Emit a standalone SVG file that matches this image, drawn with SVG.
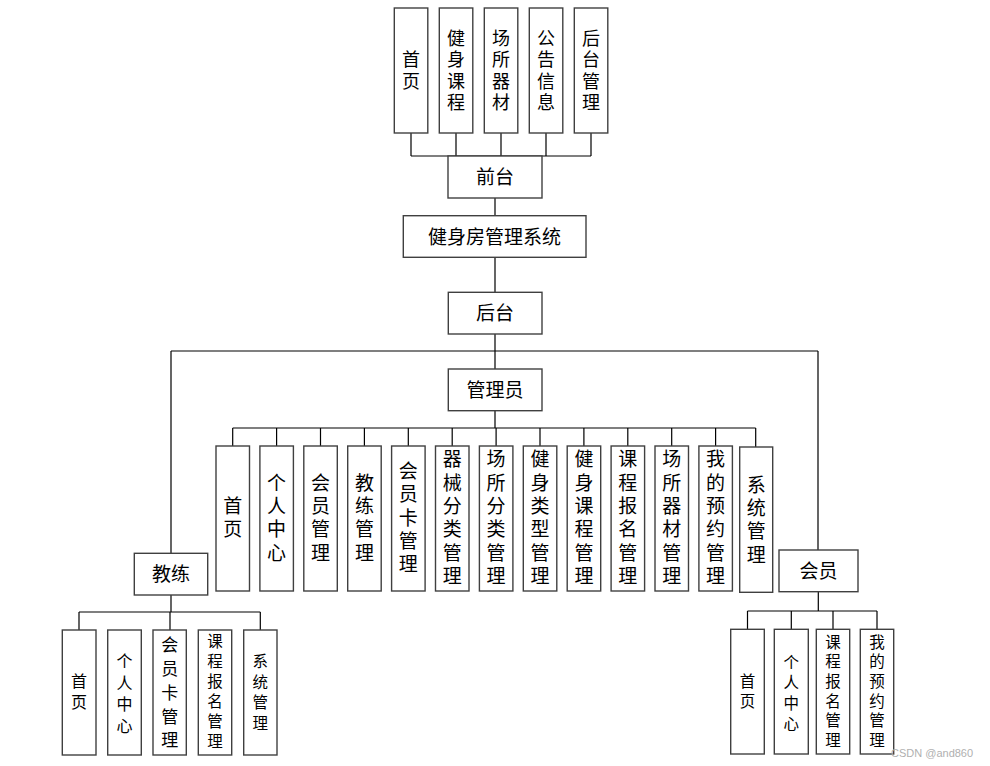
<svg xmlns="http://www.w3.org/2000/svg" width="990" height="766" viewBox="0 0 990 766">
<style>
.box{fill:#fff;stroke:#404040;stroke-width:1.4}
.ln{stroke:#000;stroke-width:1.2;fill:none}
text{font-family:"Noto Sans CJK SC","Noto Sans",sans-serif;fill:#000;text-anchor:middle}
.v{writing-mode:vertical-rl;text-orientation:upright}
.f19{font-size:19px}
.t{font-size:18px;letter-spacing:3.5px}
.a{font-size:19px;letter-spacing:4.3px}
.wm{font-family:"Liberation Sans",Arial,sans-serif;font-size:11px;fill:#b0b0b0;text-anchor:start}
</style>
<rect width="990" height="766" fill="#fff"/>
<g id="connectors">
<path class="ln" d="M411 133V156M456 133V156M501 133V156M546 133V156M591 133V156M411 156H591"/>
<path class="ln" d="M495 198V216M495 257V292M495 334V369M495 410V428"/>
<path class="ln" d="M171 351H818M171 351V553M818 351V550"/>
<path class="ln" d="M232.7 428H755.7M232.7 428V446M276.6 428V446M320.5 428V446M364.4 428V446M408.3 428V446M452.2 428V446M496.1 428V446M540 428V446M583.9 428V446M627.8 428V446M671.7 428V446M715.6 428V446M755.7 428V447"/>
<path class="ln" d="M171 595V612M79 612H260.3M79 612V630M170 612V630M260.3 612V630"/>
<path class="ln" d="M818.3 592V611M747.5 611H877M747.5 611V629M791.3 611V629M833 611V629M877 611V629"/>
</g>
<g id="front-home"><rect class="box" x="394.3" y="8" width="33.5" height="125"/><text class="v t" x="411" y="71.75">首页</text></g>
<g id="front-course"><rect class="box" x="439.3" y="8" width="33.5" height="125"/><text class="v t" x="456" y="71.75">健身课程</text></g>
<g id="front-equip"><rect class="box" x="484.3" y="8" width="33.5" height="125"/><text class="v t" x="501" y="71.75">场所器材</text></g>
<g id="front-notice"><rect class="box" x="529.3" y="8" width="33.5" height="125"/><text class="v t" x="546" y="71.75">公告信息</text></g>
<g id="front-admin"><rect class="box" x="574.3" y="8" width="33.5" height="125"/><text class="v t" x="591" y="71.75">后台管理</text></g>
<g id="front"><rect class="box" x="448" y="156" width="94" height="42"/><text class="f19" x="495" y="184">前台</text></g>
<g id="system"><rect class="box" x="403.3" y="215.7" width="182.7" height="41.6"/><text class="f19" x="494.6" y="243.7">健身房管理系统</text></g>
<g id="back"><rect class="box" x="448.3" y="292.3" width="93.7" height="41.7"/><text class="f19" x="495" y="320.2">后台</text></g>
<g id="admin"><rect class="box" x="448.3" y="369" width="93.7" height="41.7"/><text class="f19" x="495" y="396.7">管理员</text></g>
<g id="a1"><rect class="box" x="216" y="446" width="33.5" height="145"/><text class="v a" x="232.7" y="519.65">首页</text></g>
<g id="a2"><rect class="box" x="259.9" y="446" width="33.5" height="145"/><text class="v a" x="276.6" y="519.65">个人中心</text></g>
<g id="a3"><rect class="box" x="303.8" y="446" width="33.5" height="145"/><text class="v a" x="320.5" y="519.65">会员管理</text></g>
<g id="a4"><rect class="box" x="347.7" y="446" width="33.5" height="145"/><text class="v a" x="364.4" y="519.65">教练管理</text></g>
<g id="a5"><rect class="box" x="391.6" y="446" width="33.5" height="145"/><text class="v a" x="408.3" y="519.65">会员卡管理</text></g>
<g id="a6"><rect class="box" x="435.5" y="446" width="33.5" height="145"/><text class="v a" x="452.2" y="519.65">器械分类管理</text></g>
<g id="a7"><rect class="box" x="479.4" y="446" width="33.5" height="145"/><text class="v a" x="496.1" y="519.65">场所分类管理</text></g>
<g id="a8"><rect class="box" x="523.3" y="446" width="33.5" height="145"/><text class="v a" x="540" y="519.65">健身类型管理</text></g>
<g id="a9"><rect class="box" x="567.2" y="446" width="33.5" height="145"/><text class="v a" x="583.9" y="519.65">健身课程管理</text></g>
<g id="a10"><rect class="box" x="611.1" y="446" width="33.5" height="145"/><text class="v a" x="627.8" y="519.65">课程报名管理</text></g>
<g id="a11"><rect class="box" x="655" y="446" width="33.5" height="145"/><text class="v a" x="671.7" y="519.65">场所器材管理</text></g>
<g id="a12"><rect class="box" x="698.9" y="446" width="33.5" height="145"/><text class="v a" x="715.6" y="519.65">我的预约管理</text></g>
<g id="a13"><rect class="box" x="739.7" y="447" width="33" height="145.3"/><text class="v a" x="756.2" y="521.65">系统管理</text></g>
<g id="coach"><rect class="box" x="134.3" y="553.3" width="73.4" height="41.7"/><text class="f19" x="171" y="580.8">教练</text></g>
<g id="c1"><rect class="box" x="62.3" y="630" width="33.7" height="125"/><text class="v" style="font-size:16px;letter-spacing:5px" x="79.1" y="693.5">首页</text></g>
<g id="c2"><rect class="box" x="107.7" y="630" width="33.6" height="125"/><text class="v" style="font-size:16px;letter-spacing:5.7px" x="124.5" y="696.35">个人中心</text></g>
<g id="c3"><rect class="box" x="153" y="630" width="33.3" height="125"/><text class="v" style="font-size:17px;letter-spacing:6.75px" x="169.7" y="695.9">会员卡管理</text></g>
<g id="c4"><rect class="box" x="198.3" y="630" width="33.4" height="125"/><text class="v" style="font-size:15.5px;letter-spacing:4.5px" x="215" y="693.25">课程报名管理</text></g>
<g id="c5"><rect class="box" x="243.7" y="630" width="33.3" height="125"/><text class="v" style="font-size:15.5px;letter-spacing:5.2px" x="260.3" y="694.6">系统管理</text></g>
<g id="member"><rect class="box" x="779" y="550" width="79" height="41.7"/><text class="f19" x="818.5" y="577.8">会员</text></g>
<g id="m1"><rect class="box" x="730.7" y="629.3" width="33.6" height="124.7"/><text class="v" style="font-size:15.5px;letter-spacing:4.5px" x="747.5" y="693.75">首页</text></g>
<g id="m2"><rect class="box" x="774.3" y="629.3" width="34" height="124.7"/><text class="v" style="font-size:15.5px;letter-spacing:5.3px" x="791.3" y="695.65">个人中心</text></g>
<g id="m3"><rect class="box" x="816.3" y="629.3" width="33.4" height="124.7"/><text class="v" style="font-size:15.5px;letter-spacing:4.1px" x="833" y="693.05">课程报名管理</text></g>
<g id="m4"><rect class="box" x="860.3" y="629.3" width="33.4" height="124.7"/><text class="v" style="font-size:15.5px;letter-spacing:4.1px" x="877" y="693.05">我的预约管理</text></g>
<text class="wm" x="891" y="756.5">CSDN @and860</text>
</svg>
